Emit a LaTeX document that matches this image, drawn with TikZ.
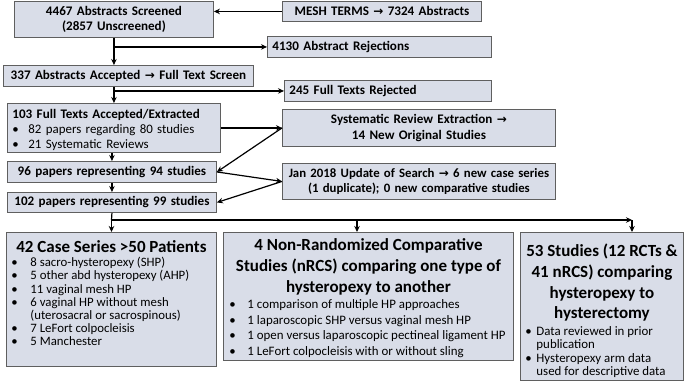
\documentclass[tikz,border=0pt]{standalone}
\usepackage{fontspec}
\setmainfont{Carlito}
\newfontfamily\symf{DejaVu Sans}
\usetikzlibrary{arrows.meta}
\definecolor{boxfill}{RGB}{217,221,232}
\definecolor{boxline}{RGB}{95,95,95}
\newcommand\ar{{\symf\bfseries\fontsize{12}{13}\selectfont →}}
\newcommand\ttlf{\fontsize{17}{20.8}\selectfont\bfseries}
\newcommand\bitem[2][18pt]{\par\noindent\hangindent=#1\relax\hangafter=1\relax\makebox[#1][l]{\textbullet}#2}
\tikzset{
  box/.style={draw=boxline, line width=0.9pt, fill=boxfill, anchor=north west,
    inner xsep=5pt, inner ysep=0pt, font=\fontsize{13.1}{15.3}\selectfont\bfseries},
  bigbox/.style={draw=boxline, line width=0.9pt, fill=boxfill, anchor=north west, inner sep=0pt},
  arr/.style={draw=black, line width=1.2pt, -{Stealth[length=6pt,width=5.5pt]}},
  ln/.style={draw=black, line width=1.2pt},
}
\begin{document}
\begin{tikzpicture}[x=1pt,y=-1pt]
\useasboundingbox (0,0) rectangle (685,382);

\node[box, text width=189pt, minimum height=36pt, align=center] (b1) at (14,1)
  {4467 Abstracts Screened\\(2857 Unscreened)};
\node[box, text width=189pt, minimum height=20pt, align=center] (mesh) at (282,1)
  {MESH TERMS \ar{} 7324 Abstracts};
\node[box, text width=214pt, minimum height=21pt, align=left] (rej1) at (267,36)
  {4130 Abstract Rejections};
\node[box, text width=240pt, minimum height=21pt, align=center] (b337) at (3,65)
  {337 Abstracts Accepted \ar{} Full Text Screen};
\node[box, text width=197pt, minimum height=21pt, align=left] (rej2) at (284,80)
  {245 Full Texts Rejected};
\node[box, text width=203pt, minimum height=49pt, align=left] (b103) at (7,103)
  {\rule{0pt}{13pt}103 Full Texts Accepted/Extracted
   \mdseries\fontsize{12.9}{15.3}\selectfont\bitem[16pt]{82 papers regarding 80 studies}
   \bitem[16pt]{21 Systematic Reviews}};
\node[box, text width=263pt, minimum height=37pt, align=center] (sr) at (282,109)
  {Systematic Review Extraction \ar\\14 New Original Studies};
\node[box, text width=199pt, minimum height=21pt, align=center] (b96) at (7,161)
  {96 papers representing 94 studies};
\node[box, inner xsep=1pt, text width=271pt, minimum height=36pt, align=center,
  font=\fontsize{12.8}{15.3}\selectfont\bfseries] (jan) at (282,163)
  {Jan 2018 Update of Search \ar{} 6 new case series\\(1 duplicate); 0 new comparative studies};
\node[box, text width=199pt, minimum height=20pt, align=center] (b102) at (7,192)
  {102 papers representing 99 studies};

\node[bigbox] (c1) at (6,232) {\parbox[c][134pt][t]{210pt}{\vspace*{7pt}%
  {\centering\ttlf\rule{0pt}{13pt}42 Case Series >50 Patients\par}%
  \vspace{1pt}%
  \raggedright\leftskip=5pt\fontsize{12.8}{13.2}\selectfont
  \bitem[19pt]{8 sacro-hysteropexy (SHP)}
  \bitem[19pt]{5 other abd hysteropexy (AHP)}
  \bitem[19pt]{11 vaginal mesh HP}
  \bitem[19pt]{6 vaginal HP without mesh\newline(uterosacral or sacrospinous)}
  \bitem[19pt]{7 LeFort colpocleisis}
  \bitem[19pt]{5 Manchester}\par}};

\node[bigbox] (c2) at (223,232) {\parbox[c][128pt][t]{290pt}{\vspace*{5pt}%
  {\centering\ttlf\rule{0pt}{13pt}4 Non-Randomized Comparative\\Studies (nRCS) comparing one type of\\hysteropexy to another\par}%
  \vspace{1pt}%
  \raggedright\leftskip=6pt\fontsize{12.9}{15.5}\selectfont
  \bitem[18pt]{1 comparison of multiple HP approaches}
  \bitem[18pt]{1 laparoscopic SHP versus vaginal mesh HP}
  \bitem[18pt]{1 open versus laparoscopic pectineal ligament HP}
  \bitem[18pt]{1 LeFort colpocleisis with or without sling}\par}};

\node[bigbox] (c3) at (520,232) {\parbox[c][148pt][t]{163pt}{\vspace*{11pt}%
  {\centering\ttlf\rule{0pt}{13pt}53 Studies (12 RCTs \&\\41 nRCS) comparing\\hysteropexy to\\hysterectomy\par}%
  \vspace{3.5pt}%
  \raggedright\leftskip=5pt\fontsize{12.9}{13.3}\selectfont
  \bitem[11pt]{Data reviewed in prior\newline publication}
  \bitem[11pt]{Hysteropexy arm data\newline used for descriptive data}\par}};

\coordinate (jL) at (111.5,220);
\coordinate (jM) at (357,220);
\coordinate (jR) at (632,220);

\draw[arr] (mesh.west) -- (mesh.west -| b1.east);
\draw[arr] (b1.south) -- (b1.south |- b337.north);
\draw[arr] (b1.south |- rej1.west) -- (rej1.west);
\draw[arr] (b1.south |- b337.south) -- (b103.north);
\draw[arr] (b1.south |- rej2.west) -- (rej2.west);
\draw[arr] (b103.east) -- (sr.west);
\draw[arr] (sr.west) -- (b96.east);
\draw[arr] (b96.east) -- (jan.west);
\draw[arr] (jan.west) -- (b102.east);
\draw[arr] (b96.north |- b103.south) -- (b96.north);
\draw[arr] (b96.south) -- (b102.north);
\draw[ln] (b102.south) -- (jL);
\draw[arr] (jL) -- (jL |- c1.north);
\draw[arr] (jL) -- (jR);
\draw[arr] (jM) -- (jM |- c2.north);
\draw[arr] (jR) -- (jR |- c3.north);
\end{tikzpicture}
\end{document}
